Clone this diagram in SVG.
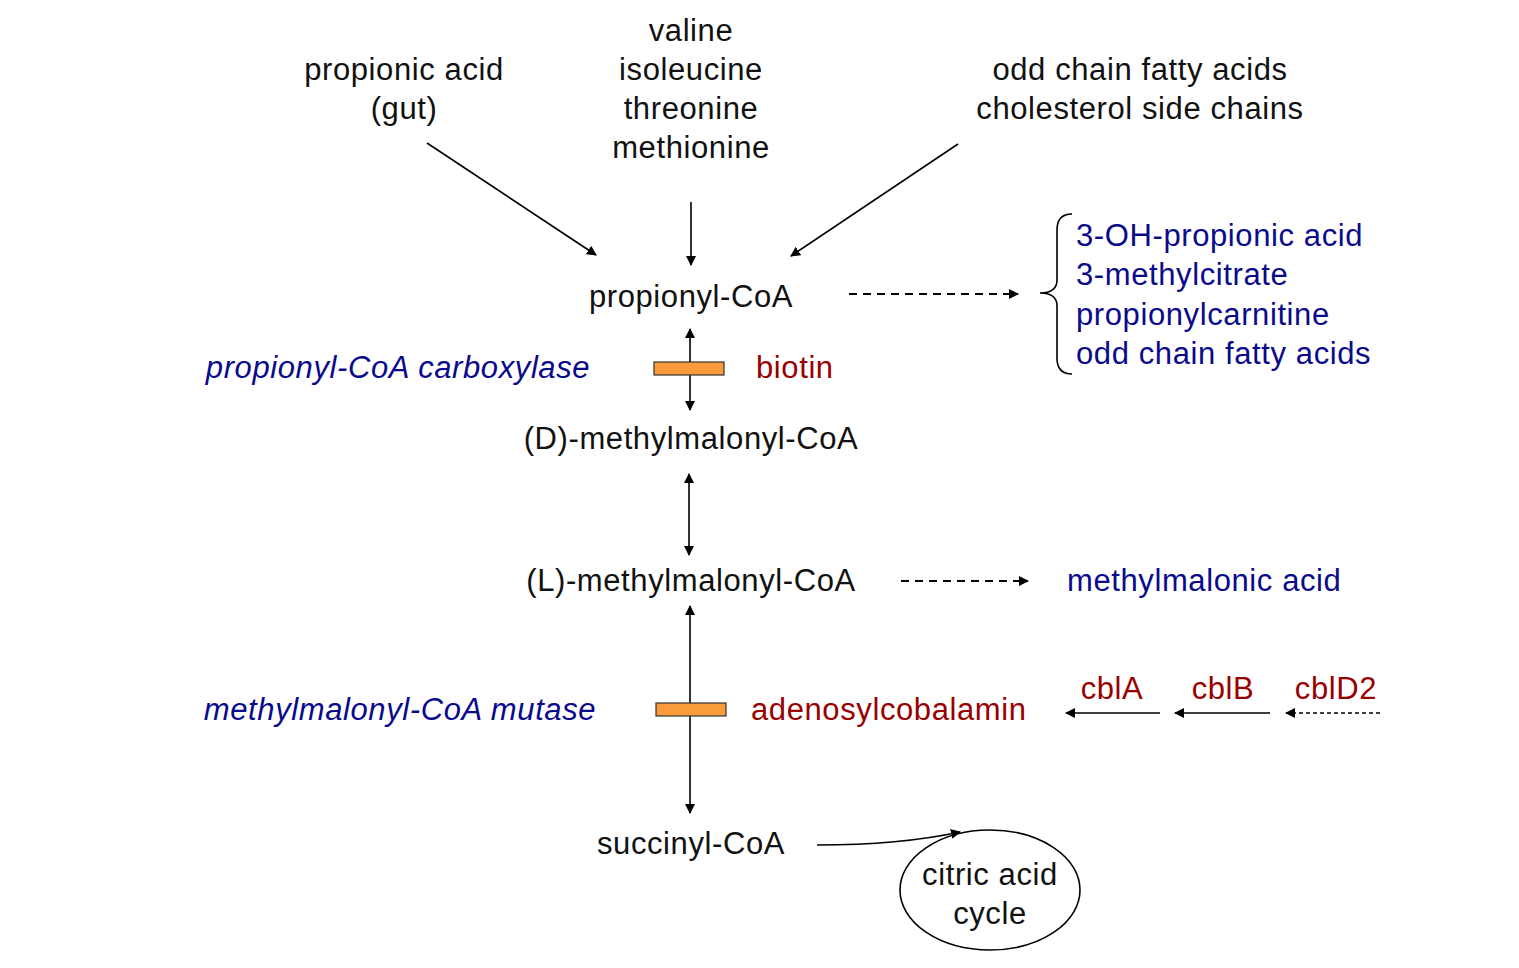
<svg xmlns="http://www.w3.org/2000/svg" width="1519" height="968" viewBox="0 0 1519 968">
<style>
text{font-family:"Liberation Sans",Arial,sans-serif;font-size:31px;letter-spacing:0.6px;fill:#111}
.b{fill:#0a0a8c}.r{fill:#990000}.i{font-style:italic}
.m{text-anchor:middle}
.l{stroke:#000;stroke-width:1.6;fill:none}
.d{stroke-dasharray:8 6;stroke-width:2}
.bar{fill:#f99b3a;stroke:#333;stroke-width:1.2}
</style>
<defs>
<marker id="a2" viewBox="0 0 10 10" refX="9" refY="5" markerWidth="10" markerHeight="10" markerUnits="userSpaceOnUse" orient="auto-start-reverse"><path d="M0,0L10,5L0,10z"/></marker>
</defs>
<g id="sources">
<text x="404" y="80" class="m">propionic acid</text>
<text x="404" y="119" class="m">(gut)</text>
<text x="691" y="41" class="m">valine</text>
<text x="691" y="80" class="m">isoleucine</text>
<text x="691" y="119" class="m">threonine</text>
<text x="691" y="158" class="m">methionine</text>
<text x="1140" y="80" class="m">odd chain fatty acids</text>
<text x="1140" y="119" class="m">cholesterol side chains</text>
</g>
<g id="propionylCoA"><text x="691" y="307" class="m">propionyl-CoA</text></g>
<g id="byproducts">
<text x="1076" y="246" class="b">3-OH-propionic acid</text>
<text x="1076" y="285" class="b">3-methylcitrate</text>
<text x="1076" y="325" class="b">propionylcarnitine</text>
<text x="1076" y="364" class="b">odd chain fatty acids</text>
<path class="l" d="M1072,214 Q1057,214 1057,230 L1057,280 Q1057,293 1040,293 Q1057,293 1057,306 L1057,358 Q1057,374 1072,374" stroke-width="1.3"/>
</g>
<g id="pcc">
<text x="398" y="378" class="b i m">propionyl-CoA carboxylase</text>
<text x="756" y="378" class="r">biotin</text>
</g>
<g id="DMM"><text x="691" y="449" class="m">(D)-methylmalonyl-CoA</text></g>
<g id="LMM"><text x="691" y="591" class="m">(L)-methylmalonyl-CoA</text></g>
<g id="mma"><text x="1067" y="591" class="b">methylmalonic acid</text></g>
<g id="mut">
<text x="400" y="720" class="b i m">methylmalonyl-CoA mutase</text>
<text x="751" y="720" class="r">adenosylcobalamin</text>
</g>
<g id="cbl">
<text x="1112" y="699" class="r m">cblA</text>
<text x="1223" y="699" class="r m">cblB</text>
<text x="1336" y="699" class="r m">cblD2</text>
</g>
<g id="succinylCoA"><text x="691" y="854" class="m">succinyl-CoA</text></g>
<g id="tca">
<ellipse cx="990" cy="890" rx="90" ry="60" fill="none" stroke="#000" stroke-width="1.6"/>
<text x="990" y="885" class="m">citric acid</text>
<text x="990" y="924" class="m">cycle</text>
</g>
<g id="connectors">
<line class="l" x1="427" y1="143" x2="596" y2="255" marker-end="url(#a2)"/>
<line class="l" x1="691" y1="202" x2="691" y2="265" marker-end="url(#a2)"/>
<line class="l" x1="958" y1="144" x2="791" y2="256" marker-end="url(#a2)"/>
<line class="l d" x1="849" y1="294" x2="1018" y2="294" marker-end="url(#a2)"/>
<line class="l" x1="690" y1="329" x2="690" y2="410" marker-start="url(#a2)" marker-end="url(#a2)"/>
<line class="l" x1="689" y1="474" x2="689" y2="555" marker-start="url(#a2)" marker-end="url(#a2)"/>
<line class="l d" x1="901" y1="581" x2="1028" y2="581" marker-end="url(#a2)"/>
<line class="l" x1="690" y1="606" x2="690" y2="813" marker-start="url(#a2)" marker-end="url(#a2)"/>
<line class="l" x1="1160" y1="713" x2="1066" y2="713" marker-end="url(#a2)"/>
<line class="l" x1="1270" y1="713" x2="1175" y2="713" marker-end="url(#a2)"/>
<line class="l" x1="1380" y1="713" x2="1286" y2="713" stroke-dasharray="4 3" marker-end="url(#a2)"/>
<path class="l" d="M817,845 Q900,845 960,832" marker-end="url(#a2)"/>
</g>
<g id="bars">
<rect class="bar" x="654" y="362" width="70" height="13"/>
<rect class="bar" x="656" y="703" width="70" height="13"/>
</g>
</svg>
